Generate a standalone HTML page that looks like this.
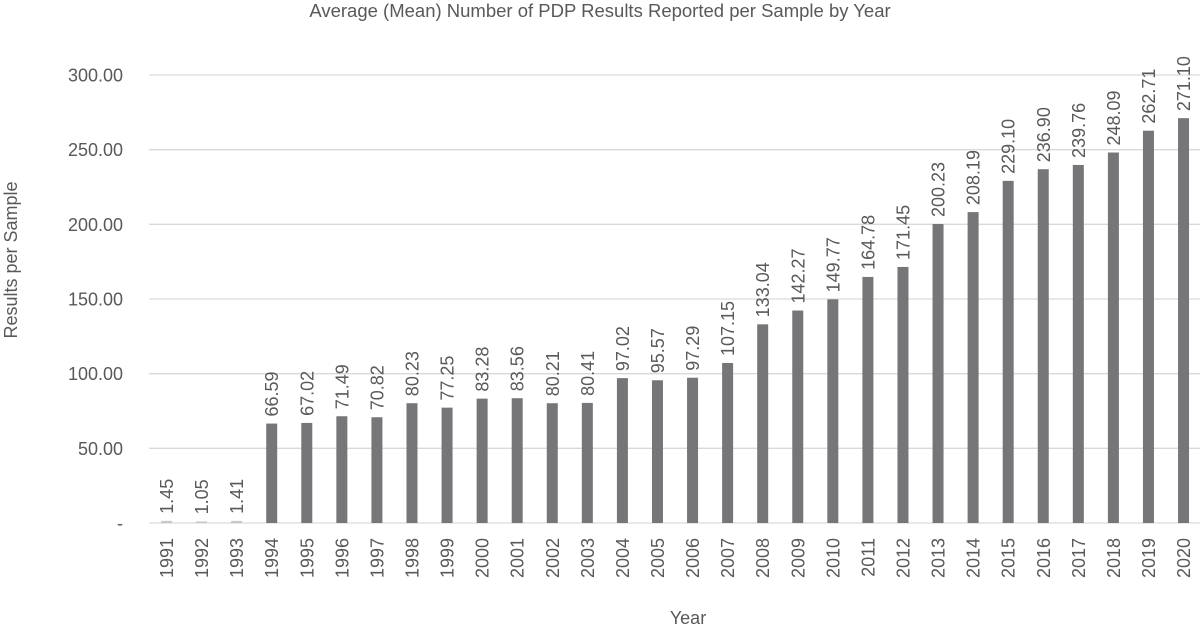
<!DOCTYPE html>
<html><head><meta charset="utf-8"><style>
body{margin:0;background:#fff;}
svg text{font-family:"Liberation Sans",sans-serif;fill:#595959;}
</style></head><body>
<svg id="c" width="1200" height="626" viewBox="0 0 1200 626">
<text x="600" y="17" text-anchor="middle" font-size="18.5">Average (Mean) Number of PDP Results Reported per Sample by Year</text>
<text transform="translate(17,260) rotate(-90)" text-anchor="middle" font-size="18">Results per Sample</text>
<text x="688" y="624" text-anchor="middle" font-size="18">Year</text>
<g id="grid"></g><g id="bars"></g>
</svg>
<script>
const years=[1991,1992,1993,1994,1995,1996,1997,1998,1999,2000,2001,2002,2003,2004,2005,2006,2007,2008,2009,2010,2011,2012,2013,2014,2015,2016,2017,2018,2019,2020];
const values=[1.45,1.05,1.41,66.59,67.02,71.49,70.82,80.23,77.25,83.28,83.56,80.21,80.41,97.02,95.57,97.29,107.15,133.04,142.27,149.77,164.78,171.45,200.23,208.19,229.10,236.90,239.76,248.09,262.71,271.10];
const ticks=[0,50,100,150,200,250,300];
const tickLabels=["-","50.00","100.00","150.00","200.00","250.00","300.00"];
const NS="http://www.w3.org/2000/svg";
const y0=523,yTop=75,vMax=300,x0=166.5,step=35.07,bw=11;
const y=v=>y0-(v/vMax)*(y0-yTop);
const x=i=>x0+i*step;
const grid=document.getElementById('grid'),bars=document.getElementById('bars');
function mk(t,a,p){const e=document.createElementNS(NS,t);for(const k in a)e.setAttribute(k,a[k]);p.appendChild(e);return e;}
ticks.forEach((t,i)=>{
  const l=mk('line',{x1:149,x2:1200,y1:y(t),y2:y(t),stroke:'#d9d9d9','stroke-width':1.3},grid);
  
  
  const tx=mk('text',{x:123,y:y(t)+6.5,'text-anchor':'end','font-size':18},grid);
  tx.textContent=tickLabels[i];
  
  
});
years.forEach((yr,i)=>{
  const cx=x(i),top=y(values[i]);
  const r=mk('rect',{x:cx-bw/2,y:top,width:bw,height:y0-top,fill:values[i]<5?'#c8c8c8':'#767679'},bars);
  
  
  const v=mk('text',{transform:`translate(${cx+6.5},${top-7}) rotate(-90)`,'font-size':18},bars);
  v.textContent=values[i].toFixed(2);
  
  
  const xl=mk('text',{transform:`translate(${cx+6.5},${538}) rotate(-90)`,'text-anchor':'end','font-size':18},bars);
  xl.textContent=yr;
  
  
});
</script>
</body></html>
